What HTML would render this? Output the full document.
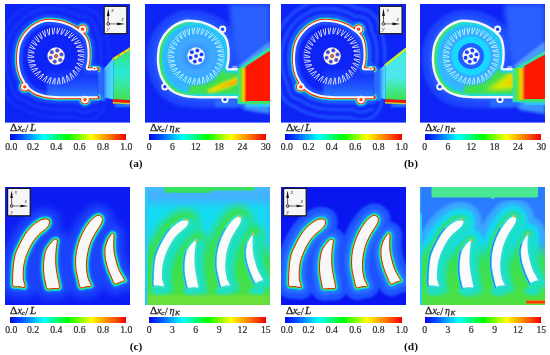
<!DOCTYPE html><html><head><meta charset="utf-8"><style>
*{margin:0;padding:0}
html,body{width:550px;height:355px;background:#fff;overflow:hidden}
.p{position:absolute;display:block}
.cb{position:absolute;height:5.6px;background:linear-gradient(to right,#0008ec 0%,#0050ff 10%,#00e8ff 26%,#00ffff 29%,#00ff00 50%,#ffff00 70%,#ff8000 85%,#f00000 100%)}
.t{position:absolute;font-family:"Liberation Serif",serif;font-size:9.7px;line-height:1;color:#2a2a2a;white-space:nowrap;-webkit-text-stroke:0.2px #2a2a2a}
.lab{position:absolute;font-family:"Liberation Serif",serif;font-size:11.4px;line-height:1;color:#111;white-space:nowrap}
.g{position:absolute;font-family:"Liberation Serif",serif;line-height:1;color:#2a2a2a;white-space:nowrap;-webkit-text-stroke:0.3px #2a2a2a}
</style></head><body><svg width="0" height="0" style="position:absolute"><defs><g id="blades"><path d="M8.10 99.00 C7.03 97.73 7.55 95.47 7.60 92.00 C7.65 88.53 8.03 82.00 8.40 78.20 C8.77 74.40 9.22 71.70 9.80 69.20 C10.38 66.70 11.05 65.27 11.90 63.20 C12.75 61.13 13.58 59.35 14.90 56.80 C16.22 54.25 18.17 50.45 19.80 47.90 C21.43 45.35 22.88 43.47 24.70 41.50 C26.52 39.53 28.72 37.58 30.70 36.10 C32.68 34.62 34.83 33.28 36.60 32.60 C38.37 31.92 40.07 31.93 41.30 32.00 C42.53 32.07 43.47 32.35 44.00 33.00 C44.53 33.65 44.62 34.90 44.50 35.90 C44.38 36.90 44.13 37.82 43.30 39.00 C42.47 40.18 41.12 41.52 39.50 43.00 C37.88 44.48 35.40 46.08 33.60 47.90 C31.80 49.72 30.18 51.75 28.70 53.90 C27.22 56.05 25.90 58.42 24.70 60.80 C23.50 63.18 22.38 65.80 21.50 68.20 C20.62 70.60 19.93 72.70 19.40 75.20 C18.87 77.70 18.48 80.40 18.30 83.20 C18.12 86.00 18.02 89.18 18.30 92.00 C18.58 94.82 20.72 98.83 20.00 100.10 C19.28 101.37 15.98 99.78 14.00 99.60 C12.02 99.42 9.17 100.27 8.10 99.00Z"/><path d="M42.20 101.60 C40.97 100.72 41.13 98.43 40.60 96.20 C40.07 93.97 39.35 90.87 39.00 88.20 C38.65 85.53 38.50 82.87 38.50 80.20 C38.50 77.53 38.65 74.87 39.00 72.20 C39.35 69.53 39.80 66.47 40.60 64.20 C41.40 61.93 42.60 60.33 43.80 58.60 C45.00 56.87 46.67 54.87 47.80 53.80 C48.93 52.73 49.85 52.20 50.60 52.20 C51.35 52.20 52.10 52.87 52.30 53.80 C52.50 54.73 52.02 56.07 51.80 57.80 C51.58 59.53 51.18 61.80 51.00 64.20 C50.82 66.60 50.70 69.53 50.70 72.20 C50.70 74.87 50.73 77.53 51.00 80.20 C51.27 82.87 51.82 85.53 52.30 88.20 C52.78 90.87 53.58 94.05 53.90 96.20 C54.22 98.35 55.18 100.22 54.20 101.10 C53.22 101.98 50.00 101.42 48.00 101.50 C46.00 101.58 43.43 102.48 42.20 101.60Z"/><path d="M75.40 100.40 C74.08 99.17 73.87 95.57 73.10 92.30 C72.33 89.03 71.18 84.63 70.80 80.80 C70.42 76.97 70.53 72.77 70.80 69.30 C71.07 65.83 71.63 63.08 72.40 60.00 C73.17 56.92 74.13 53.87 75.40 50.80 C76.67 47.73 78.28 44.47 80.00 41.60 C81.72 38.73 83.98 35.60 85.70 33.60 C87.42 31.60 88.95 30.48 90.30 29.60 C91.65 28.72 92.65 28.02 93.80 28.30 C94.95 28.58 96.82 29.85 97.20 31.30 C97.58 32.75 97.25 34.52 96.10 37.00 C94.95 39.48 92.03 43.13 90.30 46.20 C88.57 49.27 86.92 52.32 85.70 55.40 C84.48 58.48 83.68 61.62 83.00 64.70 C82.32 67.78 81.83 70.83 81.60 73.90 C81.37 76.97 81.30 80.03 81.60 83.10 C81.90 86.17 82.63 89.70 83.40 92.30 C84.17 94.90 86.60 97.47 86.20 98.70 C85.80 99.93 82.80 99.42 81.00 99.70 C79.20 99.98 76.72 101.63 75.40 100.40Z"/><path d="M109.90 96.90 C108.55 96.03 107.57 92.77 106.40 90.20 C105.23 87.63 103.87 84.42 102.90 81.50 C101.93 78.58 101.10 75.62 100.60 72.70 C100.10 69.78 99.82 66.62 99.90 64.00 C99.98 61.38 100.52 59.05 101.10 57.00 C101.68 54.95 102.60 53.22 103.40 51.70 C104.20 50.18 105.20 48.77 105.90 47.90 C106.60 47.03 107.08 46.45 107.60 46.50 C108.12 46.55 108.82 46.75 109.00 48.20 C109.18 49.65 108.70 52.57 108.70 55.20 C108.70 57.83 108.65 61.08 109.00 64.00 C109.35 66.92 110.07 69.78 110.80 72.70 C111.53 75.62 112.38 78.87 113.40 81.50 C114.42 84.13 115.88 86.62 116.90 88.50 C117.92 90.38 119.07 91.93 119.50 92.80 C119.93 93.67 120.33 93.27 119.50 93.70 C118.67 94.13 116.10 94.87 114.50 95.40 C112.90 95.93 111.25 97.77 109.90 96.90Z"/></g><path id="wallA" d="M92.60 65.30 C91.67 65.30 88.57 65.30 87.00 65.30 C85.43 65.30 84.07 65.48 83.20 65.30 C82.33 65.12 81.93 64.88 81.80 64.20 C81.67 63.52 82.17 62.32 82.40 61.20 C82.63 60.08 83.00 59.08 83.20 57.50 C83.40 55.92 83.58 53.97 83.60 51.70 C83.62 49.43 83.62 46.48 83.30 43.90 C82.98 41.32 82.37 38.22 81.70 36.20 C81.03 34.18 80.25 33.08 79.30 31.80 C78.35 30.52 77.37 29.67 76.00 28.50 C74.63 27.33 73.02 26.03 71.10 24.80 C69.18 23.57 66.95 22.20 64.50 21.10 C62.05 20.00 59.12 18.88 56.40 18.20 C53.68 17.52 50.93 17.20 48.20 17.00 C45.47 16.80 42.82 16.43 40.00 17.00 C37.18 17.57 33.98 18.92 31.30 20.40 C28.62 21.88 26.10 23.77 23.90 25.90 C21.70 28.03 19.68 30.55 18.10 33.20 C16.52 35.85 15.23 38.83 14.40 41.80 C13.57 44.77 13.32 48.12 13.10 51.00 C12.88 53.88 12.88 56.40 13.10 59.10 C13.32 61.80 13.73 64.62 14.40 67.20 C15.07 69.78 15.85 72.12 17.10 74.60 C18.35 77.08 19.87 79.83 21.90 82.10 C23.93 84.37 26.60 86.63 29.30 88.20 C32.00 89.77 35.07 90.72 38.10 91.50 C41.13 92.28 44.68 92.60 47.50 92.90 C50.32 93.20 50.75 93.23 55.00 93.30 C59.25 93.37 66.72 93.30 73.00 93.30 C79.28 93.30 89.42 93.30 92.70 93.30"/><path id="wallAc" d="M92.60 65.30 C91.67 65.30 88.57 65.30 87.00 65.30 C85.43 65.30 84.07 65.48 83.20 65.30 C82.33 65.12 81.93 64.88 81.80 64.20 C81.67 63.52 82.17 62.32 82.40 61.20 C82.63 60.08 83.00 59.08 83.20 57.50 C83.40 55.92 83.58 53.97 83.60 51.70 C83.62 49.43 83.62 46.48 83.30 43.90 C82.98 41.32 82.37 38.22 81.70 36.20 C81.03 34.18 80.25 33.08 79.30 31.80 C78.35 30.52 77.37 29.67 76.00 28.50 C74.63 27.33 73.02 26.03 71.10 24.80 C69.18 23.57 66.95 22.20 64.50 21.10 C62.05 20.00 59.12 18.88 56.40 18.20 C53.68 17.52 50.93 17.20 48.20 17.00 C45.47 16.80 42.82 16.43 40.00 17.00 C37.18 17.57 33.98 18.92 31.30 20.40 C28.62 21.88 26.10 23.77 23.90 25.90 C21.70 28.03 19.68 30.55 18.10 33.20 C16.52 35.85 15.23 38.83 14.40 41.80 C13.57 44.77 13.32 48.12 13.10 51.00 C12.88 53.88 12.88 56.40 13.10 59.10 C13.32 61.80 13.73 64.62 14.40 67.20 C15.07 69.78 15.85 72.12 17.10 74.60 C18.35 77.08 19.87 79.83 21.90 82.10 C23.93 84.37 26.60 86.63 29.30 88.20 C32.00 89.77 35.07 90.72 38.10 91.50 C41.13 92.28 44.68 92.60 47.50 92.90 C50.32 93.20 50.75 93.23 55.00 93.30 C59.25 93.37 66.72 93.30 73.00 93.30 C79.28 93.30 89.42 93.30 92.70 93.30 Z"/><g id="lugsA"><circle cx="77.60" cy="25.20" r="3.8"/><circle cx="19.80" cy="82.80" r="3.8"/><circle cx="80.00" cy="95.60" r="3.8"/></g><clipPath id="clipA"><path d="M92.60 65.30 C91.67 65.30 88.57 65.30 87.00 65.30 C85.43 65.30 84.07 65.48 83.20 65.30 C82.33 65.12 81.93 64.88 81.80 64.20 C81.67 63.52 82.17 62.32 82.40 61.20 C82.63 60.08 83.00 59.08 83.20 57.50 C83.40 55.92 83.58 53.97 83.60 51.70 C83.62 49.43 83.62 46.48 83.30 43.90 C82.98 41.32 82.37 38.22 81.70 36.20 C81.03 34.18 80.25 33.08 79.30 31.80 C78.35 30.52 77.37 29.67 76.00 28.50 C74.63 27.33 73.02 26.03 71.10 24.80 C69.18 23.57 66.95 22.20 64.50 21.10 C62.05 20.00 59.12 18.88 56.40 18.20 C53.68 17.52 50.93 17.20 48.20 17.00 C45.47 16.80 42.82 16.43 40.00 17.00 C37.18 17.57 33.98 18.92 31.30 20.40 C28.62 21.88 26.10 23.77 23.90 25.90 C21.70 28.03 19.68 30.55 18.10 33.20 C16.52 35.85 15.23 38.83 14.40 41.80 C13.57 44.77 13.32 48.12 13.10 51.00 C12.88 53.88 12.88 56.40 13.10 59.10 C13.32 61.80 13.73 64.62 14.40 67.20 C15.07 69.78 15.85 72.12 17.10 74.60 C18.35 77.08 19.87 79.83 21.90 82.10 C23.93 84.37 26.60 86.63 29.30 88.20 C32.00 89.77 35.07 90.72 38.10 91.50 C41.13 92.28 44.68 92.60 47.50 92.90 C50.32 93.20 50.75 93.23 55.00 93.30 C59.25 93.37 66.72 93.30 73.00 93.30 C79.28 93.30 89.42 93.30 92.70 93.30 Z"/></clipPath><filter id="p00_rings" x="-20%" y="-20%" width="140%" height="140%" color-interpolation-filters="sRGB"><feGaussianBlur stdDeviation="1.00"/></filter><filter id="p00_ob" x="-20%" y="-20%" width="140%" height="140%" color-interpolation-filters="sRGB"><feGaussianBlur stdDeviation="1.00"/></filter><filter id="p00_gap" x="-20%" y="-20%" width="140%" height="140%" color-interpolation-filters="sRGB"><feGaussianBlur stdDeviation="1.50"/></filter><filter id="p00_r0" x="-20%" y="-20%" width="140%" height="140%" color-interpolation-filters="sRGB"><feGaussianBlur stdDeviation="1.20"/></filter><filter id="p00_r1" x="-20%" y="-20%" width="140%" height="140%" color-interpolation-filters="sRGB"><feGaussianBlur stdDeviation="0.50"/></filter><filter id="p00_r2" x="-20%" y="-20%" width="140%" height="140%" color-interpolation-filters="sRGB"><feGaussianBlur stdDeviation="0.40"/></filter><filter id="p00_r3" x="-20%" y="-20%" width="140%" height="140%" color-interpolation-filters="sRGB"><feGaussianBlur stdDeviation="0.25"/></filter><filter id="p00_in" x="-20%" y="-20%" width="140%" height="140%" color-interpolation-filters="sRGB"><feGaussianBlur stdDeviation="1.00"/></filter><filter id="p00_ch" x="-20%" y="-20%" width="140%" height="140%" color-interpolation-filters="sRGB"><feGaussianBlur stdDeviation="1.50"/></filter><filter id="p01_halo" x="-20%" y="-20%" width="140%" height="140%" color-interpolation-filters="sRGB"><feGaussianBlur stdDeviation="1.50"/></filter><filter id="p01_tr" x="-20%" y="-20%" width="140%" height="140%" color-interpolation-filters="sRGB"><feGaussianBlur stdDeviation="2.50"/></filter><filter id="p01_ab" x="-20%" y="-20%" width="140%" height="140%" color-interpolation-filters="sRGB"><feGaussianBlur stdDeviation="1.20"/></filter><filter id="p01_bo" x="-20%" y="-20%" width="140%" height="140%" color-interpolation-filters="sRGB"><feGaussianBlur stdDeviation="1.50"/></filter><filter id="p01_gr" x="-20%" y="-20%" width="140%" height="140%" color-interpolation-filters="sRGB"><feGaussianBlur stdDeviation="0.50"/></filter><filter id="p01_ch1" x="-20%" y="-20%" width="140%" height="140%" color-interpolation-filters="sRGB"><feGaussianBlur stdDeviation="1.50"/></filter><filter id="p01_ch2" x="-20%" y="-20%" width="140%" height="140%" color-interpolation-filters="sRGB"><feGaussianBlur stdDeviation="1.50"/></filter><filter id="p01_ch4" x="-20%" y="-20%" width="140%" height="140%" color-interpolation-filters="sRGB"><feGaussianBlur stdDeviation="0.80"/></filter><filter id="p01_ch3" x="-20%" y="-20%" width="140%" height="140%" color-interpolation-filters="sRGB"><feGaussianBlur stdDeviation="1.00"/></filter><filter id="p01_rot" x="-20%" y="-20%" width="140%" height="140%" color-interpolation-filters="sRGB"><feGaussianBlur stdDeviation="0.80"/></filter><filter id="p01_hb" x="-20%" y="-20%" width="140%" height="140%" color-interpolation-filters="sRGB"><feGaussianBlur stdDeviation="1.00"/></filter><filter id="p02_rings" x="-20%" y="-20%" width="140%" height="140%" color-interpolation-filters="sRGB"><feGaussianBlur stdDeviation="1.00"/></filter><filter id="p02_ob" x="-20%" y="-20%" width="140%" height="140%" color-interpolation-filters="sRGB"><feGaussianBlur stdDeviation="1.00"/></filter><filter id="p02_gap" x="-20%" y="-20%" width="140%" height="140%" color-interpolation-filters="sRGB"><feGaussianBlur stdDeviation="1.50"/></filter><filter id="p02_r0" x="-20%" y="-20%" width="140%" height="140%" color-interpolation-filters="sRGB"><feGaussianBlur stdDeviation="1.20"/></filter><filter id="p02_r1" x="-20%" y="-20%" width="140%" height="140%" color-interpolation-filters="sRGB"><feGaussianBlur stdDeviation="0.50"/></filter><filter id="p02_r2" x="-20%" y="-20%" width="140%" height="140%" color-interpolation-filters="sRGB"><feGaussianBlur stdDeviation="0.40"/></filter><filter id="p02_r3" x="-20%" y="-20%" width="140%" height="140%" color-interpolation-filters="sRGB"><feGaussianBlur stdDeviation="0.25"/></filter><filter id="p02_in" x="-20%" y="-20%" width="140%" height="140%" color-interpolation-filters="sRGB"><feGaussianBlur stdDeviation="1.00"/></filter><filter id="p02_ch" x="-20%" y="-20%" width="140%" height="140%" color-interpolation-filters="sRGB"><feGaussianBlur stdDeviation="1.50"/></filter><filter id="p03_halo" x="-20%" y="-20%" width="140%" height="140%" color-interpolation-filters="sRGB"><feGaussianBlur stdDeviation="1.50"/></filter><filter id="p03_tr" x="-20%" y="-20%" width="140%" height="140%" color-interpolation-filters="sRGB"><feGaussianBlur stdDeviation="2.50"/></filter><filter id="p03_ab" x="-20%" y="-20%" width="140%" height="140%" color-interpolation-filters="sRGB"><feGaussianBlur stdDeviation="1.20"/></filter><filter id="p03_bo" x="-20%" y="-20%" width="140%" height="140%" color-interpolation-filters="sRGB"><feGaussianBlur stdDeviation="1.50"/></filter><filter id="p03_gr" x="-20%" y="-20%" width="140%" height="140%" color-interpolation-filters="sRGB"><feGaussianBlur stdDeviation="0.50"/></filter><filter id="p03_ch1" x="-20%" y="-20%" width="140%" height="140%" color-interpolation-filters="sRGB"><feGaussianBlur stdDeviation="1.50"/></filter><filter id="p03_ch2" x="-20%" y="-20%" width="140%" height="140%" color-interpolation-filters="sRGB"><feGaussianBlur stdDeviation="2.00"/></filter><filter id="p03_ch4" x="-20%" y="-20%" width="140%" height="140%" color-interpolation-filters="sRGB"><feGaussianBlur stdDeviation="1.20"/></filter><filter id="p03_ch3" x="-20%" y="-20%" width="140%" height="140%" color-interpolation-filters="sRGB"><feGaussianBlur stdDeviation="1.00"/></filter><filter id="p03_rot" x="-20%" y="-20%" width="140%" height="140%" color-interpolation-filters="sRGB"><feGaussianBlur stdDeviation="0.80"/></filter><filter id="p03_hb" x="-20%" y="-20%" width="140%" height="140%" color-interpolation-filters="sRGB"><feGaussianBlur stdDeviation="0.60"/></filter><filter id="p10_h1" x="-20%" y="-20%" width="140%" height="140%" color-interpolation-filters="sRGB"><feGaussianBlur stdDeviation="3.50"/></filter><filter id="p10_r0" x="-20%" y="-20%" width="140%" height="140%" color-interpolation-filters="sRGB"><feGaussianBlur stdDeviation="1.00"/></filter><filter id="p10_r1" x="-20%" y="-20%" width="140%" height="140%" color-interpolation-filters="sRGB"><feGaussianBlur stdDeviation="0.55"/></filter><filter id="p10_r2" x="-20%" y="-20%" width="140%" height="140%" color-interpolation-filters="sRGB"><feGaussianBlur stdDeviation="0.40"/></filter><filter id="p11_cy" x="-20%" y="-20%" width="140%" height="140%" color-interpolation-filters="sRGB"><feGaussianBlur stdDeviation="4.00"/></filter><filter id="p11_g1" x="-20%" y="-20%" width="140%" height="140%" color-interpolation-filters="sRGB"><feGaussianBlur stdDeviation="3.50"/></filter><filter id="p11_g2" x="-20%" y="-20%" width="140%" height="140%" color-interpolation-filters="sRGB"><feGaussianBlur stdDeviation="1.20"/></filter><filter id="p11_sh" x="-20%" y="-20%" width="140%" height="140%" color-interpolation-filters="sRGB"><feGaussianBlur stdDeviation="2.00"/></filter><filter id="p11_e14" x="-20%" y="-20%" width="140%" height="140%" color-interpolation-filters="sRGB"><feGaussianBlur stdDeviation="1.80"/></filter><filter id="p11_e46" x="-20%" y="-20%" width="140%" height="140%" color-interpolation-filters="sRGB"><feGaussianBlur stdDeviation="1.80"/></filter><filter id="p11_e78" x="-20%" y="-20%" width="140%" height="140%" color-interpolation-filters="sRGB"><feGaussianBlur stdDeviation="1.80"/></filter><filter id="p11_e112" x="-20%" y="-20%" width="140%" height="140%" color-interpolation-filters="sRGB"><feGaussianBlur stdDeviation="1.80"/></filter><filter id="p11_yb" x="-20%" y="-20%" width="140%" height="140%" color-interpolation-filters="sRGB"><feGaussianBlur stdDeviation="1.50"/></filter><filter id="p12_h1" x="-20%" y="-20%" width="140%" height="140%" color-interpolation-filters="sRGB"><feGaussianBlur stdDeviation="1.20"/></filter><filter id="p12_h2" x="-20%" y="-20%" width="140%" height="140%" color-interpolation-filters="sRGB"><feGaussianBlur stdDeviation="1.00"/></filter><filter id="p12_r0" x="-20%" y="-20%" width="140%" height="140%" color-interpolation-filters="sRGB"><feGaussianBlur stdDeviation="1.00"/></filter><filter id="p12_r1" x="-20%" y="-20%" width="140%" height="140%" color-interpolation-filters="sRGB"><feGaussianBlur stdDeviation="0.55"/></filter><filter id="p12_r2" x="-20%" y="-20%" width="140%" height="140%" color-interpolation-filters="sRGB"><feGaussianBlur stdDeviation="0.40"/></filter><filter id="p13_lb" x="-20%" y="-20%" width="140%" height="140%" color-interpolation-filters="sRGB"><feGaussianBlur stdDeviation="1.50"/></filter><filter id="p13_cy" x="-20%" y="-20%" width="140%" height="140%" color-interpolation-filters="sRGB"><feGaussianBlur stdDeviation="1.60"/></filter><filter id="p13_g1" x="-20%" y="-20%" width="140%" height="140%" color-interpolation-filters="sRGB"><feGaussianBlur stdDeviation="1.50"/></filter><filter id="p13_sh" x="-20%" y="-20%" width="140%" height="140%" color-interpolation-filters="sRGB"><feGaussianBlur stdDeviation="2.00"/></filter><filter id="p13_e14" x="-20%" y="-20%" width="140%" height="140%" color-interpolation-filters="sRGB"><feGaussianBlur stdDeviation="1.80"/></filter><filter id="p13_e46" x="-20%" y="-20%" width="140%" height="140%" color-interpolation-filters="sRGB"><feGaussianBlur stdDeviation="1.80"/></filter><filter id="p13_e78" x="-20%" y="-20%" width="140%" height="140%" color-interpolation-filters="sRGB"><feGaussianBlur stdDeviation="1.80"/></filter><filter id="p13_e112" x="-20%" y="-20%" width="140%" height="140%" color-interpolation-filters="sRGB"><feGaussianBlur stdDeviation="1.80"/></filter><filter id="p13_tb" x="-20%" y="-20%" width="140%" height="140%" color-interpolation-filters="sRGB"><feGaussianBlur stdDeviation="1.20"/></filter></defs></svg><svg class="p" style="left:5.00px;top:4.00px" width="125.00" height="118.60" viewBox="0 0 125.00 118.60"><rect width="100%" height="100%" fill="#0e24f6"/><g filter="url(#p00_rings)" fill="none" stroke-linejoin="round"><use href="#wallA" stroke="#1230f8" stroke-width="44.00"/><use href="#lugsA" stroke="#1230f8" stroke-width="37.40"/><use href="#wallA" stroke="#0e24f6" stroke-width="37.00"/><use href="#lugsA" stroke="#0e24f6" stroke-width="30.40"/><use href="#wallA" stroke="#1434f8" stroke-width="28.00"/><use href="#lugsA" stroke="#1434f8" stroke-width="21.40"/><use href="#wallA" stroke="#0e24f6" stroke-width="21.00"/><use href="#lugsA" stroke="#0e24f6" stroke-width="14.40"/><use href="#wallA" stroke="#1840fa" stroke-width="14.00"/><use href="#lugsA" stroke="#1840fa" stroke-width="7.40"/><use href="#wallA" stroke="#0e24f6" stroke-width="9.00"/><use href="#lugsA" stroke="#0e24f6" stroke-width="2.40"/></g><defs><linearGradient id="p00_ol" x1="0" y1="0" x2="1" y2="0"><stop offset="0" stop-color="#50b4ff"/><stop offset="1" stop-color="#48dcff"/></linearGradient><linearGradient id="p00_or" x1="0" y1="0" x2="0" y2="1"><stop offset="0" stop-color="#40e070"/><stop offset="0.25" stop-color="#30e8a0"/><stop offset="0.45" stop-color="#28e8d8"/><stop offset="0.7" stop-color="#38e8a0"/><stop offset="1" stop-color="#40e050"/></linearGradient></defs><polygon points="99.2,64.9 108.4,54.4 108.4,95.5 99.2,93.5" fill="url(#p00_ol)"/><polygon points="108.4,54.4 125,43.8 125,96 108.4,95.5" fill="url(#p00_or)"/><line x1="107.6" y1="55.5" x2="125.5" y2="44.2" stroke="#c8f020" stroke-width="2.3"/><line x1="107.6" y1="55.5" x2="125.5" y2="44.2" stroke="#ff9000" stroke-width="2.3" stroke-dasharray="2 4.5"/><line x1="99.0" y1="65.6" x2="108.4" y2="55.0" stroke="#60c8ff" stroke-width="1.2"/><polygon points="107.8,95.2 125,96.2 125,99 107.8,98" fill="#ff1800"/><polygon points="107.8,98 125,99 125,100.6 107.8,99.6" fill="#f0d000"/><rect x="110" y="99.9" width="15" height="3" fill="#30c8ff" opacity="0.6" filter="url(#p00_ob)"/><ellipse cx="97.5" cy="94.5" rx="2.5" ry="2" fill="#40b0ff" filter="url(#p00_ob)"/><polygon points="92,66 100,64 100,95 92,94" fill="#2a6cff" filter="url(#p00_gap)"/><g filter="url(#p00_r0)" opacity="0.60" stroke="#1a8cff" stroke-linejoin="round" stroke-linecap="round" ><use href="#wallA" fill="none" stroke-width="9.10"/><use href="#lugsA" fill="none" stroke-width="7.00"/></g><g filter="url(#p00_r1)" opacity="1.00" stroke="#00d8ff" stroke-linejoin="round" stroke-linecap="round" ><use href="#wallA" fill="none" stroke-width="6.50"/><use href="#lugsA" fill="none" stroke-width="4.40"/></g><g filter="url(#p00_r2)" opacity="1.00" stroke="#40f080" stroke-linejoin="round" stroke-linecap="round" ><use href="#wallA" fill="none" stroke-width="5.10"/><use href="#lugsA" fill="none" stroke-width="3.00"/></g><g filter="url(#p00_r3)" opacity="1.00" stroke="#ff2000" stroke-linejoin="round" stroke-linecap="round" ><use href="#wallA" fill="none" stroke-width="4.00"/><use href="#lugsA" fill="none" stroke-width="1.90"/></g><use href="#wallAc" fill="#0e24f6"/><g clip-path="url(#clipA)"><use href="#wallA" fill="none" stroke="#2050ff" stroke-width="9" filter="url(#p00_in)"/></g><defs><linearGradient id="p00_chg" x1="0" y1="0" x2="0" y2="1"><stop offset="0" stop-color="#1c48ff" stop-opacity="0.3"/><stop offset="0.6" stop-color="#2462ff" stop-opacity="0.8"/><stop offset="1" stop-color="#2c80ff"/></linearGradient></defs><g clip-path="url(#clipA)"><rect x="42" y="66" width="56" height="28" fill="url(#p00_chg)" filter="url(#p00_ch)"/></g><use href="#wallA" fill="none" stroke="#f8f8f8" stroke-width="2.1"/><circle cx="77.60" cy="25.20" r="3.8" fill="#f8f8f8"/><circle cx="77.60" cy="25.20" r="1.6" fill="#ff2000"/><circle cx="77.60" cy="25.20" r="0.5" fill="#c0e020"/><circle cx="19.80" cy="82.80" r="3.8" fill="#f8f8f8"/><circle cx="19.80" cy="82.80" r="1.6" fill="#ff2000"/><circle cx="19.80" cy="82.80" r="0.5" fill="#c0e020"/><circle cx="80.00" cy="95.60" r="3.8" fill="#f8f8f8"/><circle cx="80.00" cy="95.60" r="1.6" fill="#ff2000"/><circle cx="80.00" cy="95.60" r="0.5" fill="#c0e020"/><circle cx="89.60" cy="64.60" r="2" fill="#f8f8f8"/><circle cx="89.60" cy="64.60" r="0.9" fill="#ff2000"/><path d="M79.22 50.82 Q66.44 50.15 79.22 53.28 M78.97 56.02 Q66.52 53.01 78.52 58.44 M77.77 61.08 Q66.08 55.83 76.88 63.37 M75.65 65.84 Q65.13 58.53 74.36 67.93 M72.70 70.12 Q63.70 61.01 71.04 71.94 M69.01 73.79 Q61.84 63.18 67.05 75.27 M64.71 76.72 Q59.61 64.97 62.51 77.82 M59.94 78.81 Q57.09 66.33 57.58 79.48 M54.87 79.99 Q54.36 67.19 52.42 80.22 M49.68 80.22 Q51.52 67.55 47.23 79.99 M44.52 79.48 Q48.67 67.37 42.16 78.81 M39.59 77.82 Q45.89 66.67 37.39 76.72 M35.05 75.27 Q43.30 65.47 33.09 73.79 M31.06 71.94 Q40.96 63.82 29.40 70.12 M27.74 67.93 Q38.97 61.77 26.45 65.84 M25.22 63.37 Q37.39 59.38 24.33 61.08 M23.58 58.44 Q36.28 56.75 23.13 56.02 M22.88 53.28 Q35.66 53.95 22.88 50.82 M23.13 48.08 Q35.58 51.09 23.58 45.66 M24.33 43.02 Q36.02 48.27 25.22 40.73 M26.45 38.26 Q36.97 45.57 27.74 36.17 M29.40 33.98 Q38.40 43.09 31.06 32.16 M33.09 30.31 Q40.26 40.92 35.05 28.83 M37.39 27.38 Q42.49 39.13 39.59 26.28 M42.16 25.29 Q45.01 37.77 44.52 24.62 M47.23 24.11 Q47.74 36.91 49.68 23.88 M52.42 23.88 Q50.58 36.55 54.87 24.11 M57.58 24.62 Q53.43 36.73 59.94 25.29 M62.51 26.28 Q56.21 37.43 64.71 27.38 M67.05 28.83 Q58.80 38.63 69.01 30.31 M71.04 32.16 Q61.14 40.28 72.70 33.98 M74.36 36.17 Q63.13 42.33 75.65 38.26 M76.88 40.73 Q64.71 44.72 77.77 43.02 M78.52 45.66 Q65.82 47.35 78.97 48.08" fill="none" stroke="#eef2f0" stroke-width="0.90" stroke-linecap="round"/><circle cx="51.05" cy="52.05" r="8.7" fill="#f6f6f2"/><circle cx="56.50" cy="50.38" r="1.9" fill="#2050ff" stroke="#ff8040" stroke-width="0.55" stroke-opacity="0.75"/><circle cx="52.33" cy="46.50" r="1.9" fill="#2050ff" stroke="#ff8040" stroke-width="0.55" stroke-opacity="0.75"/><circle cx="46.88" cy="48.16" r="1.9" fill="#2050ff" stroke="#ff8040" stroke-width="0.55" stroke-opacity="0.75"/><circle cx="45.60" cy="53.72" r="1.9" fill="#2050ff" stroke="#ff8040" stroke-width="0.55" stroke-opacity="0.75"/><circle cx="49.77" cy="57.60" r="1.9" fill="#2050ff" stroke="#ff8040" stroke-width="0.55" stroke-opacity="0.75"/><circle cx="55.22" cy="55.94" r="1.9" fill="#2050ff" stroke="#ff8040" stroke-width="0.55" stroke-opacity="0.75"/><circle cx="51.05" cy="52.05" r="1.6" fill="#20c0e0" stroke="#ff2000" stroke-width="0.9"/><g transform="translate(98.60 1.70)"><rect x="0.6" y="0.6" width="22.6" height="27.4" fill="#f6f6f6" stroke="#151515" stroke-width="1.2"/><line x1="4.6" y1="18.2" x2="4.6" y2="9" stroke="#333" stroke-width="0.8"/><path d="M4.6 2.6 L5.95 10.3 L3.25 10.3Z" fill="#111"/><line x1="4.6" y1="18.2" x2="15" y2="18.2" stroke="#666" stroke-width="0.9"/><path d="M21.3 18.2 L13.6 19.55 L13.6 16.85Z" fill="#111"/><circle cx="4.6" cy="18.2" r="1.4" fill="#ccc" stroke="#222" stroke-width="0.8"/><text x="7.6" y="6.4" font-family="Liberation Serif" font-style="italic" font-size="5.8" fill="#444">x</text><text x="17.8" y="15.6" font-family="Liberation Serif" font-style="italic" font-size="5.6" fill="#444">z</text><text x="3.2" y="25.8" font-family="Liberation Serif" font-style="italic" font-size="6.4" fill="#555">y</text></g></svg>
<div class="cb" style="left:9.60px;top:134.30px;width:116.70px"></div>
<div class="t" style="left:11.30px;top:142.40px;width:30px;margin-left:-15px;text-align:center">0.0</div>
<div class="t" style="left:32.94px;top:142.40px;width:30px;margin-left:-15px;text-align:center">0.2</div>
<div class="t" style="left:56.28px;top:142.40px;width:30px;margin-left:-15px;text-align:center">0.4</div>
<div class="t" style="left:79.62px;top:142.40px;width:30px;margin-left:-15px;text-align:center">0.6</div>
<div class="t" style="left:102.96px;top:142.40px;width:30px;margin-left:-15px;text-align:center">0.8</div>
<div class="t" style="left:126.30px;top:142.40px;width:30px;margin-left:-15px;text-align:center">1.0</div>
<span class="g" style="left:10.20px;top:122.83px;font-size:10.20px;font-style:normal;transform:scaleX(1.12);transform-origin:0 0">&Delta;</span><span class="g" style="left:17.50px;top:122.83px;font-size:10.20px;font-style:italic">x</span><span class="g" style="left:21.70px;top:127.02px;font-size:7.00px;font-style:italic">c</span><span class="g" style="left:25.20px;top:123.00px;font-size:10.71px;font-style:normal">/</span><span class="g" style="left:29.80px;top:122.83px;font-size:10.20px;font-style:italic;transform:scaleX(1.1);transform-origin:0 0">L</span>
<svg class="p" style="left:144.50px;top:4.00px" width="125.00" height="118.60" viewBox="0 0 125.00 118.60"><rect width="100%" height="100%" fill="#0e24f6"/><g filter="url(#p01_halo)" fill="none" stroke-linejoin="round"><use href="#wallA" stroke="#1c44fc" stroke-width="22"/><use href="#wallA" stroke="#2458ff" stroke-width="9"/></g><polygon points="84,0 125,0 125,42 100,58 92,62 88,40" fill="#2a60ff" filter="url(#p01_tr)"/><polygon points="90,64 100,56 125,37 125,48 101,63" fill="#4c98ff" filter="url(#p01_ab)"/><polygon points="92,96 125,96 125,110 100,106" fill="#3a90ff" filter="url(#p01_bo)"/><rect x="70" y="95" width="30" height="8" fill="#2a6cff" filter="url(#p01_bo)"/><polygon points="92.6,65 100.8,58.8 125,42.8 125,102.0 92.6,100.0" fill="#30e0a8"/><defs><linearGradient id="p01_lg" x1="0" y1="0" x2="1" y2="0"><stop offset="0" stop-color="#30e0c0"/><stop offset="0.35" stop-color="#50e840"/><stop offset="0.7" stop-color="#f0d000"/><stop offset="1" stop-color="#ff6000"/></linearGradient></defs><rect x="92.6" y="64" width="8.4" height="34.0" fill="url(#p01_lg)"/><polygon points="100.8,62.3 125,46.8 125,97.0 100.8,97.0" fill="#ff1800"/><rect x="100.8" y="97.0" width="24.7" height="3.2" fill="#40e070"/><rect x="100.8" y="100.2" width="24.7" height="3" fill="#30c8ff" opacity="0.8"/><g clip-path="url(#clipA)"><rect width="125" height="120" fill="#38b4ff"/><defs><linearGradient id="p01_gw" x1="0" y1="0.2" x2="0.9" y2="0"><stop offset="0" stop-color="#40e060"/><stop offset="0.3" stop-color="#38e080"/><stop offset="0.55" stop-color="#20d8e8" stop-opacity="0.7"/><stop offset="1" stop-color="#20d8f0" stop-opacity="0"/></linearGradient></defs><use href="#wallA" fill="none" stroke="#20c8f8" stroke-width="13"/><use href="#wallA" fill="none" stroke="url(#p01_gw)" stroke-width="7.5" filter="url(#p01_gr)"/><polygon points="50,70 97,63 97,96 40,96" fill="#40e050" filter="url(#p01_ch1)"/><polygon points="62,86 78,78 97,71 97,78 80,85 64,90" fill="#e8e000" filter="url(#p01_ch2)"/><polygon points="72,84 86,78 96,75 96,77 86,80.5" fill="#ff9000" filter="url(#p01_ch4)"/><rect x="40" y="90" width="58" height="5" fill="#20d8f0" filter="url(#p01_ch3)"/><rect x="80" y="64" width="18" height="5" fill="#20d0f0" filter="url(#p01_ch3)"/><circle cx="51.05" cy="52.05" r="29.2" fill="#34acff" filter="url(#p01_rot)"/><circle cx="51.05" cy="52.05" r="26.5" fill="none" stroke="#20c8f8" stroke-width="4" opacity="0.6"/><circle cx="51.05" cy="52.05" r="19.5" fill="#40a8ff"/><circle cx="51.05" cy="52.05" r="13" fill="#3898ff" filter="url(#p01_hb)"/></g><use href="#wallA" fill="none" stroke="#f8f8f8" stroke-width="2.4"/><circle cx="77.60" cy="25.20" r="3.6" fill="#f8f8f8"/><circle cx="77.60" cy="25.20" r="1.7" fill="#1840ff"/><circle cx="19.80" cy="82.80" r="3.6" fill="#f8f8f8"/><circle cx="19.80" cy="82.80" r="1.7" fill="#1840ff"/><circle cx="80.00" cy="95.60" r="3.6" fill="#f8f8f8"/><circle cx="80.00" cy="95.60" r="1.7" fill="#1840ff"/><rect x="88.10" y="62.80" width="3" height="2.6" fill="none" stroke="#f8f8f8" stroke-width="0.8"/><path d="M79.22 50.82 Q66.44 50.15 79.22 53.28 M78.97 56.02 Q66.52 53.01 78.52 58.44 M77.77 61.08 Q66.08 55.83 76.88 63.37 M75.65 65.84 Q65.13 58.53 74.36 67.93 M72.70 70.12 Q63.70 61.01 71.04 71.94 M69.01 73.79 Q61.84 63.18 67.05 75.27 M64.71 76.72 Q59.61 64.97 62.51 77.82 M59.94 78.81 Q57.09 66.33 57.58 79.48 M54.87 79.99 Q54.36 67.19 52.42 80.22 M49.68 80.22 Q51.52 67.55 47.23 79.99 M44.52 79.48 Q48.67 67.37 42.16 78.81 M39.59 77.82 Q45.89 66.67 37.39 76.72 M35.05 75.27 Q43.30 65.47 33.09 73.79 M31.06 71.94 Q40.96 63.82 29.40 70.12 M27.74 67.93 Q38.97 61.77 26.45 65.84 M25.22 63.37 Q37.39 59.38 24.33 61.08 M23.58 58.44 Q36.28 56.75 23.13 56.02 M22.88 53.28 Q35.66 53.95 22.88 50.82 M23.13 48.08 Q35.58 51.09 23.58 45.66 M24.33 43.02 Q36.02 48.27 25.22 40.73 M26.45 38.26 Q36.97 45.57 27.74 36.17 M29.40 33.98 Q38.40 43.09 31.06 32.16 M33.09 30.31 Q40.26 40.92 35.05 28.83 M37.39 27.38 Q42.49 39.13 39.59 26.28 M42.16 25.29 Q45.01 37.77 44.52 24.62 M47.23 24.11 Q47.74 36.91 49.68 23.88 M52.42 23.88 Q50.58 36.55 54.87 24.11 M57.58 24.62 Q53.43 36.73 59.94 25.29 M62.51 26.28 Q56.21 37.43 64.71 27.38 M67.05 28.83 Q58.80 38.63 69.01 30.31 M71.04 32.16 Q61.14 40.28 72.70 33.98 M74.36 36.17 Q63.13 42.33 75.65 38.26 M76.88 40.73 Q64.71 44.72 77.77 43.02 M78.52 45.66 Q65.82 47.35 78.97 48.08" fill="none" stroke="#dcf0ff" stroke-width="0.85" stroke-linecap="round"/><circle cx="51.05" cy="52.05" r="8.7" fill="#f6f6f2"/><circle cx="56.50" cy="50.38" r="1.95" fill="#1840ff"/><circle cx="52.33" cy="46.50" r="1.95" fill="#1840ff"/><circle cx="46.88" cy="48.16" r="1.95" fill="#1840ff"/><circle cx="45.60" cy="53.72" r="1.95" fill="#1840ff"/><circle cx="49.77" cy="57.60" r="1.95" fill="#1840ff"/><circle cx="55.22" cy="55.94" r="1.95" fill="#1840ff"/><circle cx="51.05" cy="52.05" r="1.9" fill="#1840ff"/></svg>
<div class="cb" style="left:149.10px;top:134.30px;width:116.70px"></div>
<div class="t" style="left:149.10px;top:142.40px;width:30px;margin-left:-15px;text-align:center">0</div>
<div class="t" style="left:172.44px;top:142.40px;width:30px;margin-left:-15px;text-align:center">6</div>
<div class="t" style="left:195.78px;top:142.40px;width:30px;margin-left:-15px;text-align:center">12</div>
<div class="t" style="left:219.12px;top:142.40px;width:30px;margin-left:-15px;text-align:center">18</div>
<div class="t" style="left:242.46px;top:142.40px;width:30px;margin-left:-15px;text-align:center">24</div>
<div class="t" style="left:265.80px;top:142.40px;width:30px;margin-left:-15px;text-align:center">30</div>
<span class="g" style="left:149.70px;top:122.83px;font-size:10.20px;font-style:normal;transform:scaleX(1.12);transform-origin:0 0">&Delta;</span><span class="g" style="left:157.00px;top:122.83px;font-size:10.20px;font-style:italic">x</span><span class="g" style="left:161.20px;top:127.02px;font-size:7.00px;font-style:italic">c</span><span class="g" style="left:164.70px;top:123.00px;font-size:10.71px;font-style:normal">/</span><span class="g" style="left:169.60px;top:122.83px;font-size:10.20px;font-style:italic">&eta;</span><span class="g" style="left:175.00px;top:127.02px;font-size:7.00px;font-style:italic">K</span>
<svg class="p" style="left:280.60px;top:4.00px" width="125.00" height="118.60" viewBox="0 0 125.00 118.60"><rect width="100%" height="100%" fill="#0e24f6"/><g filter="url(#p02_rings)" fill="none" stroke-linejoin="round"><use href="#wallA" stroke="#1c4cff" stroke-width="44.00"/><use href="#lugsA" stroke="#1c4cff" stroke-width="37.40"/><use href="#wallA" stroke="#0e24f6" stroke-width="37.00"/><use href="#lugsA" stroke="#0e24f6" stroke-width="30.40"/><use href="#wallA" stroke="#1c4cff" stroke-width="28.00"/><use href="#lugsA" stroke="#1c4cff" stroke-width="21.40"/><use href="#wallA" stroke="#0e24f6" stroke-width="21.00"/><use href="#lugsA" stroke="#0e24f6" stroke-width="14.40"/><use href="#wallA" stroke="#2060ff" stroke-width="14.00"/><use href="#lugsA" stroke="#2060ff" stroke-width="7.40"/><use href="#wallA" stroke="#0e24f6" stroke-width="9.00"/><use href="#lugsA" stroke="#0e24f6" stroke-width="2.40"/></g><defs><linearGradient id="p02_ol" x1="0" y1="0" x2="1" y2="0"><stop offset="0" stop-color="#50b4ff"/><stop offset="1" stop-color="#48dcff"/></linearGradient><linearGradient id="p02_or" x1="0" y1="0" x2="0" y2="1"><stop offset="0" stop-color="#40e8c0"/><stop offset="0.25" stop-color="#48e8e8"/><stop offset="0.55" stop-color="#50e8f0"/><stop offset="0.8" stop-color="#40e890"/><stop offset="1" stop-color="#40e050"/></linearGradient></defs><polygon points="98.0,66.4 104.7,60.3 104.7,95.5 98.0,93.5" fill="url(#p02_ol)"/><polygon points="104.7,60.3 125,44.0 125,96 104.7,95.5" fill="url(#p02_or)"/><line x1="103.9" y1="61.4" x2="125.5" y2="44.4" stroke="#c8f020" stroke-width="2.3"/><line x1="97.8" y1="67.1" x2="104.7" y2="60.9" stroke="#60c8ff" stroke-width="1.2"/><polygon points="104.1,95.2 125,96.2 125,99 104.1,98" fill="#ff1800"/><polygon points="104.1,98 125,99 125,100.6 104.1,99.6" fill="#f0d000"/><rect x="110" y="99.9" width="15" height="3" fill="#30c8ff" opacity="0.6" filter="url(#p02_ob)"/><ellipse cx="97.5" cy="94.5" rx="2.5" ry="2" fill="#40b0ff" filter="url(#p02_ob)"/><polygon points="92,66 100,64 100,95 92,94" fill="#2a6cff" filter="url(#p02_gap)"/><g filter="url(#p02_r0)" opacity="0.60" stroke="#1a8cff" stroke-linejoin="round" stroke-linecap="round" ><use href="#wallA" fill="none" stroke-width="9.10"/><use href="#lugsA" fill="none" stroke-width="7.00"/></g><g filter="url(#p02_r1)" opacity="1.00" stroke="#00d8ff" stroke-linejoin="round" stroke-linecap="round" ><use href="#wallA" fill="none" stroke-width="6.50"/><use href="#lugsA" fill="none" stroke-width="4.40"/></g><g filter="url(#p02_r2)" opacity="1.00" stroke="#40f080" stroke-linejoin="round" stroke-linecap="round" ><use href="#wallA" fill="none" stroke-width="5.10"/><use href="#lugsA" fill="none" stroke-width="3.00"/></g><g filter="url(#p02_r3)" opacity="1.00" stroke="#ff2000" stroke-linejoin="round" stroke-linecap="round" ><use href="#wallA" fill="none" stroke-width="4.00"/><use href="#lugsA" fill="none" stroke-width="1.90"/></g><use href="#wallAc" fill="#0e24f6"/><g clip-path="url(#clipA)"><use href="#wallA" fill="none" stroke="#2050ff" stroke-width="9" filter="url(#p02_in)"/></g><defs><linearGradient id="p02_chg" x1="0" y1="0" x2="0" y2="1"><stop offset="0" stop-color="#1c48ff" stop-opacity="0.3"/><stop offset="0.6" stop-color="#2462ff" stop-opacity="0.8"/><stop offset="1" stop-color="#2c80ff"/></linearGradient></defs><g clip-path="url(#clipA)"><rect x="42" y="66" width="56" height="28" fill="url(#p02_chg)" filter="url(#p02_ch)"/></g><use href="#wallA" fill="none" stroke="#f8f8f8" stroke-width="2.1"/><circle cx="77.60" cy="25.20" r="3.8" fill="#f8f8f8"/><circle cx="77.60" cy="25.20" r="1.6" fill="#ff2000"/><circle cx="77.60" cy="25.20" r="0.5" fill="#c0e020"/><circle cx="19.80" cy="82.80" r="3.8" fill="#f8f8f8"/><circle cx="19.80" cy="82.80" r="1.6" fill="#ff2000"/><circle cx="19.80" cy="82.80" r="0.5" fill="#c0e020"/><circle cx="80.00" cy="95.60" r="3.8" fill="#f8f8f8"/><circle cx="80.00" cy="95.60" r="1.6" fill="#ff2000"/><circle cx="80.00" cy="95.60" r="0.5" fill="#c0e020"/><circle cx="89.60" cy="64.60" r="2" fill="#f8f8f8"/><circle cx="89.60" cy="64.60" r="0.9" fill="#ff2000"/><path d="M79.22 50.82 Q66.44 50.15 79.22 53.28 M78.97 56.02 Q66.52 53.01 78.52 58.44 M77.77 61.08 Q66.08 55.83 76.88 63.37 M75.65 65.84 Q65.13 58.53 74.36 67.93 M72.70 70.12 Q63.70 61.01 71.04 71.94 M69.01 73.79 Q61.84 63.18 67.05 75.27 M64.71 76.72 Q59.61 64.97 62.51 77.82 M59.94 78.81 Q57.09 66.33 57.58 79.48 M54.87 79.99 Q54.36 67.19 52.42 80.22 M49.68 80.22 Q51.52 67.55 47.23 79.99 M44.52 79.48 Q48.67 67.37 42.16 78.81 M39.59 77.82 Q45.89 66.67 37.39 76.72 M35.05 75.27 Q43.30 65.47 33.09 73.79 M31.06 71.94 Q40.96 63.82 29.40 70.12 M27.74 67.93 Q38.97 61.77 26.45 65.84 M25.22 63.37 Q37.39 59.38 24.33 61.08 M23.58 58.44 Q36.28 56.75 23.13 56.02 M22.88 53.28 Q35.66 53.95 22.88 50.82 M23.13 48.08 Q35.58 51.09 23.58 45.66 M24.33 43.02 Q36.02 48.27 25.22 40.73 M26.45 38.26 Q36.97 45.57 27.74 36.17 M29.40 33.98 Q38.40 43.09 31.06 32.16 M33.09 30.31 Q40.26 40.92 35.05 28.83 M37.39 27.38 Q42.49 39.13 39.59 26.28 M42.16 25.29 Q45.01 37.77 44.52 24.62 M47.23 24.11 Q47.74 36.91 49.68 23.88 M52.42 23.88 Q50.58 36.55 54.87 24.11 M57.58 24.62 Q53.43 36.73 59.94 25.29 M62.51 26.28 Q56.21 37.43 64.71 27.38 M67.05 28.83 Q58.80 38.63 69.01 30.31 M71.04 32.16 Q61.14 40.28 72.70 33.98 M74.36 36.17 Q63.13 42.33 75.65 38.26 M76.88 40.73 Q64.71 44.72 77.77 43.02 M78.52 45.66 Q65.82 47.35 78.97 48.08" fill="none" stroke="#eef2f0" stroke-width="0.90" stroke-linecap="round"/><circle cx="51.05" cy="52.05" r="8.7" fill="#f6f6f2"/><circle cx="56.50" cy="50.38" r="1.9" fill="#2050ff" stroke="#ff8040" stroke-width="0.55" stroke-opacity="0.75"/><circle cx="52.33" cy="46.50" r="1.9" fill="#2050ff" stroke="#ff8040" stroke-width="0.55" stroke-opacity="0.75"/><circle cx="46.88" cy="48.16" r="1.9" fill="#2050ff" stroke="#ff8040" stroke-width="0.55" stroke-opacity="0.75"/><circle cx="45.60" cy="53.72" r="1.9" fill="#2050ff" stroke="#ff8040" stroke-width="0.55" stroke-opacity="0.75"/><circle cx="49.77" cy="57.60" r="1.9" fill="#2050ff" stroke="#ff8040" stroke-width="0.55" stroke-opacity="0.75"/><circle cx="55.22" cy="55.94" r="1.9" fill="#2050ff" stroke="#ff8040" stroke-width="0.55" stroke-opacity="0.75"/><circle cx="51.05" cy="52.05" r="1.6" fill="#20c0e0" stroke="#ff2000" stroke-width="0.9"/><g transform="translate(97.90 1.70)"><rect x="0.6" y="0.6" width="22.6" height="27.4" fill="#f6f6f6" stroke="#151515" stroke-width="1.2"/><line x1="4.6" y1="18.2" x2="4.6" y2="9" stroke="#333" stroke-width="0.8"/><path d="M4.6 2.6 L5.95 10.3 L3.25 10.3Z" fill="#111"/><line x1="4.6" y1="18.2" x2="15" y2="18.2" stroke="#666" stroke-width="0.9"/><path d="M21.3 18.2 L13.6 19.55 L13.6 16.85Z" fill="#111"/><circle cx="4.6" cy="18.2" r="1.4" fill="#ccc" stroke="#222" stroke-width="0.8"/><text x="7.6" y="6.4" font-family="Liberation Serif" font-style="italic" font-size="5.8" fill="#444">x</text><text x="17.8" y="15.6" font-family="Liberation Serif" font-style="italic" font-size="5.6" fill="#444">z</text><text x="3.2" y="25.8" font-family="Liberation Serif" font-style="italic" font-size="6.4" fill="#555">y</text></g></svg>
<div class="cb" style="left:285.20px;top:134.30px;width:116.70px"></div>
<div class="t" style="left:286.90px;top:142.40px;width:30px;margin-left:-15px;text-align:center">0.0</div>
<div class="t" style="left:308.54px;top:142.40px;width:30px;margin-left:-15px;text-align:center">0.2</div>
<div class="t" style="left:331.88px;top:142.40px;width:30px;margin-left:-15px;text-align:center">0.4</div>
<div class="t" style="left:355.22px;top:142.40px;width:30px;margin-left:-15px;text-align:center">0.6</div>
<div class="t" style="left:378.56px;top:142.40px;width:30px;margin-left:-15px;text-align:center">0.8</div>
<div class="t" style="left:401.90px;top:142.40px;width:30px;margin-left:-15px;text-align:center">1.0</div>
<span class="g" style="left:285.80px;top:122.83px;font-size:10.20px;font-style:normal;transform:scaleX(1.12);transform-origin:0 0">&Delta;</span><span class="g" style="left:293.10px;top:122.83px;font-size:10.20px;font-style:italic">x</span><span class="g" style="left:297.30px;top:127.02px;font-size:7.00px;font-style:italic">c</span><span class="g" style="left:300.80px;top:123.00px;font-size:10.71px;font-style:normal">/</span><span class="g" style="left:305.40px;top:122.83px;font-size:10.20px;font-style:italic;transform:scaleX(1.1);transform-origin:0 0">L</span>
<svg class="p" style="left:420.00px;top:4.00px" width="125.00" height="118.60" viewBox="0 0 125.00 118.60"><rect width="100%" height="100%" fill="#0e24f6"/><g filter="url(#p03_halo)" fill="none" stroke-linejoin="round"><use href="#wallA" stroke="#1c44fc" stroke-width="22"/><use href="#wallA" stroke="#2458ff" stroke-width="9"/></g><polygon points="84,0 125,0 125,42 100,58 92,62 88,40" fill="#2a60ff" filter="url(#p03_tr)"/><polygon points="90,64 100,56 125,37 125,48 101,63" fill="#4c98ff" filter="url(#p03_ab)"/><polygon points="92,96 125,96 125,110 100,106" fill="#3a90ff" filter="url(#p03_bo)"/><rect x="70" y="95" width="30" height="8" fill="#2a6cff" filter="url(#p03_bo)"/><polygon points="92.6,65 104.3,58.5 125,46.5 125,100.0 92.6,98.0" fill="#30e0a8"/><defs><linearGradient id="p03_lg" x1="0" y1="0" x2="1" y2="0"><stop offset="0" stop-color="#30e0c0"/><stop offset="0.35" stop-color="#50e840"/><stop offset="0.7" stop-color="#f0d000"/><stop offset="1" stop-color="#ff6000"/></linearGradient></defs><rect x="92.6" y="64" width="11.9" height="32.0" fill="url(#p03_lg)"/><polygon points="104.3,62.0 125,50.5 125,95.0 104.3,95.0" fill="#ff1800"/><rect x="104.3" y="95.0" width="21.2" height="3.2" fill="#40e070"/><rect x="104.3" y="98.2" width="21.2" height="3" fill="#30c8ff" opacity="0.8"/><g clip-path="url(#clipA)"><rect width="125" height="120" fill="#38b4ff"/><defs><linearGradient id="p03_gw" x1="0" y1="0.2" x2="0.9" y2="0"><stop offset="0" stop-color="#40e060"/><stop offset="0.3" stop-color="#38e080"/><stop offset="0.55" stop-color="#20d8e8" stop-opacity="0.7"/><stop offset="1" stop-color="#20d8f0" stop-opacity="0"/></linearGradient></defs><use href="#wallA" fill="none" stroke="#20c8f8" stroke-width="13"/><use href="#wallA" fill="none" stroke="url(#p03_gw)" stroke-width="7.5" filter="url(#p03_gr)"/><polygon points="50,70 97,63 97,96 40,96" fill="#40e050" filter="url(#p03_ch1)"/><polygon points="66,86 80,76 92,66 98,66 98,84 82,86" fill="#d8e800" filter="url(#p03_ch2)"/><polygon points="84,80 92,71 97,69 97,78 90,82" fill="#f0d000" filter="url(#p03_ch4)"/><rect x="40" y="90" width="58" height="5" fill="#20d8f0" filter="url(#p03_ch3)"/><rect x="80" y="64" width="18" height="5" fill="#20d0f0" filter="url(#p03_ch3)"/><circle cx="51.05" cy="52.05" r="29.2" fill="#34acff" filter="url(#p03_rot)"/><circle cx="51.05" cy="52.05" r="26.5" fill="none" stroke="#20c8f8" stroke-width="4" opacity="0.6"/><circle cx="51.05" cy="52.05" r="19.5" fill="#18d8ff"/><circle cx="51.05" cy="52.05" r="13" fill="#2060ff" filter="url(#p03_hb)"/></g><use href="#wallA" fill="none" stroke="#f8f8f8" stroke-width="2.4"/><circle cx="77.60" cy="25.20" r="3.6" fill="#f8f8f8"/><circle cx="77.60" cy="25.20" r="1.7" fill="#1840ff"/><circle cx="19.80" cy="82.80" r="3.6" fill="#f8f8f8"/><circle cx="19.80" cy="82.80" r="1.7" fill="#1840ff"/><circle cx="80.00" cy="95.60" r="3.6" fill="#f8f8f8"/><circle cx="80.00" cy="95.60" r="1.7" fill="#1840ff"/><rect x="88.10" y="62.80" width="3" height="2.6" fill="none" stroke="#f8f8f8" stroke-width="0.8"/><path d="M79.22 50.82 Q66.44 50.15 79.22 53.28 M78.97 56.02 Q66.52 53.01 78.52 58.44 M77.77 61.08 Q66.08 55.83 76.88 63.37 M75.65 65.84 Q65.13 58.53 74.36 67.93 M72.70 70.12 Q63.70 61.01 71.04 71.94 M69.01 73.79 Q61.84 63.18 67.05 75.27 M64.71 76.72 Q59.61 64.97 62.51 77.82 M59.94 78.81 Q57.09 66.33 57.58 79.48 M54.87 79.99 Q54.36 67.19 52.42 80.22 M49.68 80.22 Q51.52 67.55 47.23 79.99 M44.52 79.48 Q48.67 67.37 42.16 78.81 M39.59 77.82 Q45.89 66.67 37.39 76.72 M35.05 75.27 Q43.30 65.47 33.09 73.79 M31.06 71.94 Q40.96 63.82 29.40 70.12 M27.74 67.93 Q38.97 61.77 26.45 65.84 M25.22 63.37 Q37.39 59.38 24.33 61.08 M23.58 58.44 Q36.28 56.75 23.13 56.02 M22.88 53.28 Q35.66 53.95 22.88 50.82 M23.13 48.08 Q35.58 51.09 23.58 45.66 M24.33 43.02 Q36.02 48.27 25.22 40.73 M26.45 38.26 Q36.97 45.57 27.74 36.17 M29.40 33.98 Q38.40 43.09 31.06 32.16 M33.09 30.31 Q40.26 40.92 35.05 28.83 M37.39 27.38 Q42.49 39.13 39.59 26.28 M42.16 25.29 Q45.01 37.77 44.52 24.62 M47.23 24.11 Q47.74 36.91 49.68 23.88 M52.42 23.88 Q50.58 36.55 54.87 24.11 M57.58 24.62 Q53.43 36.73 59.94 25.29 M62.51 26.28 Q56.21 37.43 64.71 27.38 M67.05 28.83 Q58.80 38.63 69.01 30.31 M71.04 32.16 Q61.14 40.28 72.70 33.98 M74.36 36.17 Q63.13 42.33 75.65 38.26 M76.88 40.73 Q64.71 44.72 77.77 43.02 M78.52 45.66 Q65.82 47.35 78.97 48.08" fill="none" stroke="#dcf0ff" stroke-width="0.85" stroke-linecap="round"/><circle cx="51.05" cy="52.05" r="8.7" fill="#f6f6f2"/><circle cx="56.50" cy="50.38" r="1.95" fill="#1840ff"/><circle cx="52.33" cy="46.50" r="1.95" fill="#1840ff"/><circle cx="46.88" cy="48.16" r="1.95" fill="#1840ff"/><circle cx="45.60" cy="53.72" r="1.95" fill="#1840ff"/><circle cx="49.77" cy="57.60" r="1.95" fill="#1840ff"/><circle cx="55.22" cy="55.94" r="1.95" fill="#1840ff"/><circle cx="51.05" cy="52.05" r="1.9" fill="#1840ff"/></svg>
<div class="cb" style="left:424.60px;top:134.30px;width:116.70px"></div>
<div class="t" style="left:424.60px;top:142.40px;width:30px;margin-left:-15px;text-align:center">0</div>
<div class="t" style="left:447.94px;top:142.40px;width:30px;margin-left:-15px;text-align:center">6</div>
<div class="t" style="left:471.28px;top:142.40px;width:30px;margin-left:-15px;text-align:center">12</div>
<div class="t" style="left:494.62px;top:142.40px;width:30px;margin-left:-15px;text-align:center">18</div>
<div class="t" style="left:517.96px;top:142.40px;width:30px;margin-left:-15px;text-align:center">24</div>
<div class="t" style="left:541.30px;top:142.40px;width:30px;margin-left:-15px;text-align:center">30</div>
<span class="g" style="left:425.20px;top:122.83px;font-size:10.20px;font-style:normal;transform:scaleX(1.12);transform-origin:0 0">&Delta;</span><span class="g" style="left:432.50px;top:122.83px;font-size:10.20px;font-style:italic">x</span><span class="g" style="left:436.70px;top:127.02px;font-size:7.00px;font-style:italic">c</span><span class="g" style="left:440.20px;top:123.00px;font-size:10.71px;font-style:normal">/</span><span class="g" style="left:445.10px;top:122.83px;font-size:10.20px;font-style:italic">&eta;</span><span class="g" style="left:450.50px;top:127.02px;font-size:7.00px;font-style:italic">K</span>
<div class="lab" style="left:136.00px;top:158.20px;width:30px;margin-left:-15px;text-align:center"><b>(a)</b></div>
<div class="lab" style="left:411.00px;top:158.20px;width:30px;margin-left:-15px;text-align:center"><b>(b)</b></div>
<svg class="p" style="left:5.00px;top:186.80px" width="125.00" height="118.00" viewBox="0 0 125.00 118.00"><rect width="100%" height="100%" fill="#0c1cf2"/><g filter="url(#p10_h1)" fill="#2050ff" stroke="#2050ff" stroke-width="22" stroke-linejoin="round" opacity="0.75"><use href="#blades"/></g><g filter="url(#p10_r0)" opacity="0.70" stroke="#1a8cff" stroke-linejoin="round" stroke-linecap="round" ><use href="#blades" fill="none" stroke-width="7.50"/></g><g filter="url(#p10_r1)" opacity="1.00" stroke="#00d0ff" stroke-linejoin="round" stroke-linecap="round" ><use href="#blades" fill="none" stroke-width="4.80"/></g><g filter="url(#p10_r2)" opacity="1.00" stroke="#30f050" stroke-linejoin="round" stroke-linecap="round" ><use href="#blades" fill="none" stroke-width="3.10"/></g><use href="#blades" fill="#f8f8f8" stroke="#e81800" stroke-width="1.0"/><g transform="translate(2.00 0.80)"><rect x="0.6" y="0.6" width="22.6" height="27.4" fill="#f6f6f6" stroke="#151515" stroke-width="1.2"/><line x1="4.6" y1="18.2" x2="4.6" y2="9" stroke="#333" stroke-width="0.8"/><path d="M4.6 2.6 L5.95 10.3 L3.25 10.3Z" fill="#111"/><line x1="4.6" y1="18.2" x2="15" y2="18.2" stroke="#666" stroke-width="0.9"/><path d="M21.3 18.2 L13.6 19.55 L13.6 16.85Z" fill="#111"/><circle cx="4.6" cy="18.2" r="1.4" fill="#ccc" stroke="#222" stroke-width="0.8"/><text x="7.6" y="6.4" font-family="Liberation Serif" font-style="italic" font-size="5.8" fill="#444">x</text><text x="17.8" y="15.6" font-family="Liberation Serif" font-style="italic" font-size="5.6" fill="#444">z</text><text x="3.2" y="25.8" font-family="Liberation Serif" font-style="italic" font-size="6.4" fill="#555">y</text></g></svg>
<div class="cb" style="left:9.60px;top:317.10px;width:116.70px"></div>
<div class="t" style="left:11.30px;top:325.20px;width:30px;margin-left:-15px;text-align:center">0.0</div>
<div class="t" style="left:32.94px;top:325.20px;width:30px;margin-left:-15px;text-align:center">0.2</div>
<div class="t" style="left:56.28px;top:325.20px;width:30px;margin-left:-15px;text-align:center">0.4</div>
<div class="t" style="left:79.62px;top:325.20px;width:30px;margin-left:-15px;text-align:center">0.6</div>
<div class="t" style="left:102.96px;top:325.20px;width:30px;margin-left:-15px;text-align:center">0.8</div>
<div class="t" style="left:126.30px;top:325.20px;width:30px;margin-left:-15px;text-align:center">1.0</div>
<span class="g" style="left:10.20px;top:305.63px;font-size:10.20px;font-style:normal;transform:scaleX(1.12);transform-origin:0 0">&Delta;</span><span class="g" style="left:17.50px;top:305.63px;font-size:10.20px;font-style:italic">x</span><span class="g" style="left:21.70px;top:309.82px;font-size:7.00px;font-style:italic">c</span><span class="g" style="left:25.20px;top:305.80px;font-size:10.71px;font-style:normal">/</span><span class="g" style="left:29.80px;top:305.63px;font-size:10.20px;font-style:italic;transform:scaleX(1.1);transform-origin:0 0">L</span>
<svg class="p" style="left:144.50px;top:186.80px" width="125.00" height="118.00" viewBox="0 0 125.00 118.00"><rect width="100%" height="100%" fill="#0e24f6"/><rect width="125" height="118" fill="#44b0ff"/><rect x="0" y="16" width="125" height="102" fill="#14dcf4" filter="url(#p11_cy)"/><g filter="url(#p11_g1)" fill="#38e050" stroke="#38e050" stroke-width="20.0" stroke-linejoin="round" opacity="0.85" ><use href="#blades"/></g><g filter="url(#p11_g2)" fill="#38e050" stroke="#38e050" stroke-width="9.0" stroke-linejoin="round" opacity="1.00" ><use href="#blades"/></g><defs><linearGradient id="p11_lo" x1="0" y1="0" x2="0" y2="1"><stop offset="0" stop-color="#38e050" stop-opacity="0"/><stop offset="0.3" stop-color="#38e050"/><stop offset="1" stop-color="#50e040"/></linearGradient></defs><rect x="0" y="55" width="125" height="63" fill="url(#p11_lo)"/><g filter="url(#p11_sh)" fill="#18e0d0" stroke="#18e0d0" stroke-width="7.0" stroke-linejoin="round" opacity="0.85" transform="translate(4.5 3)"><use href="#blades"/></g><ellipse cx="14" cy="104" rx="8" ry="4.5" fill="#20e0c0" filter="url(#p11_e14)"/><ellipse cx="46" cy="104" rx="8" ry="4.5" fill="#20e0c0" filter="url(#p11_e46)"/><ellipse cx="78" cy="104" rx="8" ry="4.5" fill="#20e0c0" filter="url(#p11_e78)"/><ellipse cx="112" cy="104" rx="8" ry="4.5" fill="#20e0c0" filter="url(#p11_e112)"/><rect x="0" y="108" width="125" height="10" fill="#78e038" opacity="0.7" filter="url(#p11_yb)"/><rect x="0" y="0" width="2.5" height="118" fill="#20d0f8"/><rect x="0" y="0" width="125" height="4.5" fill="#44b8ff"/><path d="M19.5 0 H109.5 V3.5 H66 V5.8 H19.5Z" fill="#38e060"/><use href="#blades" fill="#fbfbfb" stroke="#30e0c8" stroke-width="2.4" stroke-linejoin="round"/><path d="M8.10 99.00 C8.02 97.83 7.55 95.47 7.60 92.00 C7.65 88.53 8.03 82.00 8.40 78.20 C8.77 74.40 9.22 71.70 9.80 69.20 C10.38 66.70 11.05 65.27 11.90 63.20 C12.75 61.13 13.58 59.35 14.90 56.80 C16.22 54.25 18.17 50.45 19.80 47.90 C21.43 45.35 23.88 42.57 24.70 41.50 M42.20 101.60 C41.93 100.70 41.13 98.43 40.60 96.20 C40.07 93.97 39.35 90.87 39.00 88.20 C38.65 85.53 38.50 82.87 38.50 80.20 C38.50 77.53 38.65 74.87 39.00 72.20 C39.35 69.53 40.33 65.53 40.60 64.20 M75.40 100.40 C75.02 99.05 73.87 95.57 73.10 92.30 C72.33 89.03 71.18 84.63 70.80 80.80 C70.42 76.97 70.53 72.77 70.80 69.30 C71.07 65.83 71.63 63.08 72.40 60.00 C73.17 56.92 74.13 53.87 75.40 50.80 C76.67 47.73 79.23 43.13 80.00 41.60 M109.90 96.90 C109.32 95.78 107.57 92.77 106.40 90.20 C105.23 87.63 103.87 84.42 102.90 81.50 C101.93 78.58 101.10 75.62 100.60 72.70 C100.10 69.78 99.82 66.62 99.90 64.00 C99.98 61.38 100.90 58.17 101.10 57.00" fill="none" stroke="#2a98ff" stroke-width="1.1" stroke-linecap="round"/><circle cx="41.50" cy="32.80" r="1.3" fill="#f0c000" opacity="0.9"/><circle cx="51.00" cy="53.40" r="1.3" fill="#f0c000" opacity="0.9"/><circle cx="94.80" cy="29.40" r="1.3" fill="#f0c000" opacity="0.9"/><circle cx="107.90" cy="47.40" r="1.3" fill="#f0c000" opacity="0.9"/></svg>
<div class="cb" style="left:149.10px;top:317.10px;width:116.70px"></div>
<div class="t" style="left:149.10px;top:325.20px;width:30px;margin-left:-15px;text-align:center">0</div>
<div class="t" style="left:172.44px;top:325.20px;width:30px;margin-left:-15px;text-align:center">3</div>
<div class="t" style="left:195.78px;top:325.20px;width:30px;margin-left:-15px;text-align:center">6</div>
<div class="t" style="left:219.12px;top:325.20px;width:30px;margin-left:-15px;text-align:center">9</div>
<div class="t" style="left:242.46px;top:325.20px;width:30px;margin-left:-15px;text-align:center">12</div>
<div class="t" style="left:265.80px;top:325.20px;width:30px;margin-left:-15px;text-align:center">15</div>
<span class="g" style="left:149.70px;top:305.63px;font-size:10.20px;font-style:normal;transform:scaleX(1.12);transform-origin:0 0">&Delta;</span><span class="g" style="left:157.00px;top:305.63px;font-size:10.20px;font-style:italic">x</span><span class="g" style="left:161.20px;top:309.82px;font-size:7.00px;font-style:italic">c</span><span class="g" style="left:164.70px;top:305.80px;font-size:10.71px;font-style:normal">/</span><span class="g" style="left:169.60px;top:305.63px;font-size:10.20px;font-style:italic">&eta;</span><span class="g" style="left:175.00px;top:309.82px;font-size:7.00px;font-style:italic">K</span>
<svg class="p" style="left:280.60px;top:186.80px" width="125.00" height="118.00" viewBox="0 0 125.00 118.00"><rect width="100%" height="100%" fill="#0a16f0"/><g filter="url(#p12_h1)" fill="#1c54ff" stroke="#1c54ff" stroke-width="24" stroke-linejoin="round"><use href="#blades"/></g><g filter="url(#p12_h2)" fill="#2a6cff" stroke="#2a6cff" stroke-width="13" stroke-linejoin="round"><use href="#blades"/></g><g filter="url(#p12_r0)" opacity="0.70" stroke="#1a8cff" stroke-linejoin="round" stroke-linecap="round" ><use href="#blades" fill="none" stroke-width="7.50"/></g><g filter="url(#p12_r1)" opacity="1.00" stroke="#00d0ff" stroke-linejoin="round" stroke-linecap="round" ><use href="#blades" fill="none" stroke-width="4.80"/></g><g filter="url(#p12_r2)" opacity="1.00" stroke="#30f050" stroke-linejoin="round" stroke-linecap="round" ><use href="#blades" fill="none" stroke-width="3.10"/></g><use href="#blades" fill="#f8f8f8" stroke="#e81800" stroke-width="1.0"/><g transform="translate(2.00 0.80)"><rect x="0.6" y="0.6" width="22.6" height="27.4" fill="#f6f6f6" stroke="#151515" stroke-width="1.2"/><line x1="4.6" y1="18.2" x2="4.6" y2="9" stroke="#333" stroke-width="0.8"/><path d="M4.6 2.6 L5.95 10.3 L3.25 10.3Z" fill="#111"/><line x1="4.6" y1="18.2" x2="15" y2="18.2" stroke="#666" stroke-width="0.9"/><path d="M21.3 18.2 L13.6 19.55 L13.6 16.85Z" fill="#111"/><circle cx="4.6" cy="18.2" r="1.4" fill="#ccc" stroke="#222" stroke-width="0.8"/><text x="7.6" y="6.4" font-family="Liberation Serif" font-style="italic" font-size="5.8" fill="#444">x</text><text x="17.8" y="15.6" font-family="Liberation Serif" font-style="italic" font-size="5.6" fill="#444">z</text><text x="3.2" y="25.8" font-family="Liberation Serif" font-style="italic" font-size="6.4" fill="#555">y</text></g></svg>
<div class="cb" style="left:285.20px;top:317.10px;width:116.70px"></div>
<div class="t" style="left:286.90px;top:325.20px;width:30px;margin-left:-15px;text-align:center">0.0</div>
<div class="t" style="left:308.54px;top:325.20px;width:30px;margin-left:-15px;text-align:center">0.2</div>
<div class="t" style="left:331.88px;top:325.20px;width:30px;margin-left:-15px;text-align:center">0.4</div>
<div class="t" style="left:355.22px;top:325.20px;width:30px;margin-left:-15px;text-align:center">0.6</div>
<div class="t" style="left:378.56px;top:325.20px;width:30px;margin-left:-15px;text-align:center">0.8</div>
<div class="t" style="left:401.90px;top:325.20px;width:30px;margin-left:-15px;text-align:center">1.0</div>
<span class="g" style="left:285.80px;top:305.63px;font-size:10.20px;font-style:normal;transform:scaleX(1.12);transform-origin:0 0">&Delta;</span><span class="g" style="left:293.10px;top:305.63px;font-size:10.20px;font-style:italic">x</span><span class="g" style="left:297.30px;top:309.82px;font-size:7.00px;font-style:italic">c</span><span class="g" style="left:300.80px;top:305.80px;font-size:10.71px;font-style:normal">/</span><span class="g" style="left:305.40px;top:305.63px;font-size:10.20px;font-style:italic;transform:scaleX(1.1);transform-origin:0 0">L</span>
<svg class="p" style="left:420.00px;top:186.80px" width="125.00" height="118.00" viewBox="0 0 125.00 118.00"><rect width="100%" height="100%" fill="#0e24f6"/><rect width="125" height="118" fill="#2c7cff"/><g filter="url(#p13_lb)" fill="#38a8ff" stroke="#38a8ff" stroke-width="34.0" stroke-linejoin="round" opacity="1.00" ><use href="#blades"/></g><g filter="url(#p13_cy)" fill="#14d8f0" stroke="#14d8f0" stroke-width="21.0" stroke-linejoin="round" opacity="1.00" ><use href="#blades"/></g><g filter="url(#p13_g1)" fill="#38e060" stroke="#38e060" stroke-width="7.5" stroke-linejoin="round" opacity="1.00" ><use href="#blades"/></g><defs><linearGradient id="p13_lo" x1="0" y1="0" x2="0" y2="1"><stop offset="0" stop-color="#38e050" stop-opacity="0"/><stop offset="0.3" stop-color="#38e050"/><stop offset="1" stop-color="#50e040"/></linearGradient></defs><rect x="0" y="55" width="125" height="63" fill="url(#p13_lo)"/><g filter="url(#p13_sh)" fill="#18e0d0" stroke="#18e0d0" stroke-width="7.0" stroke-linejoin="round" opacity="0.85" transform="translate(4.5 3)"><use href="#blades"/></g><ellipse cx="14" cy="104" rx="8" ry="4.5" fill="#20e0c0" filter="url(#p13_e14)"/><ellipse cx="46" cy="104" rx="8" ry="4.5" fill="#20e0c0" filter="url(#p13_e46)"/><ellipse cx="78" cy="104" rx="8" ry="4.5" fill="#20e0c0" filter="url(#p13_e78)"/><ellipse cx="112" cy="104" rx="8" ry="4.5" fill="#20e0c0" filter="url(#p13_e112)"/><rect x="0" y="0" width="2" height="118" fill="#20d0f8"/><path d="M0 0 H125 V20 H119 V13 L13 13 V26 H0Z" fill="#2c7cff" filter="url(#p13_tb)"/><path d="M11.5 0 H118 V9.5 L116.5 10.5 H75 L72.5 12.5 L71 10.5 H13 L11.5 9Z" fill="#48e894"/><rect x="106.5" y="113.4" width="18.5" height="3.4" fill="#ff7000"/><rect x="106.5" y="114.2" width="18.5" height="1.8" fill="#ff3000"/><use href="#blades" fill="#fbfbfb" stroke="#28dcd8" stroke-width="2.4" stroke-linejoin="round"/><path d="M8.10 99.00 C8.02 97.83 7.55 95.47 7.60 92.00 C7.65 88.53 8.03 82.00 8.40 78.20 C8.77 74.40 9.22 71.70 9.80 69.20 C10.38 66.70 11.05 65.27 11.90 63.20 C12.75 61.13 13.58 59.35 14.90 56.80 C16.22 54.25 18.17 50.45 19.80 47.90 C21.43 45.35 23.88 42.57 24.70 41.50 M42.20 101.60 C41.93 100.70 41.13 98.43 40.60 96.20 C40.07 93.97 39.35 90.87 39.00 88.20 C38.65 85.53 38.50 82.87 38.50 80.20 C38.50 77.53 38.65 74.87 39.00 72.20 C39.35 69.53 40.33 65.53 40.60 64.20 M75.40 100.40 C75.02 99.05 73.87 95.57 73.10 92.30 C72.33 89.03 71.18 84.63 70.80 80.80 C70.42 76.97 70.53 72.77 70.80 69.30 C71.07 65.83 71.63 63.08 72.40 60.00 C73.17 56.92 74.13 53.87 75.40 50.80 C76.67 47.73 79.23 43.13 80.00 41.60 M109.90 96.90 C109.32 95.78 107.57 92.77 106.40 90.20 C105.23 87.63 103.87 84.42 102.90 81.50 C101.93 78.58 101.10 75.62 100.60 72.70 C100.10 69.78 99.82 66.62 99.90 64.00 C99.98 61.38 100.90 58.17 101.10 57.00" fill="none" stroke="#2080ff" stroke-width="1.1" stroke-linecap="round"/><circle cx="41.50" cy="32.80" r="1.3" fill="#f0c000" opacity="0.9"/><circle cx="51.00" cy="53.40" r="1.3" fill="#f0c000" opacity="0.9"/><circle cx="94.80" cy="29.40" r="1.3" fill="#f0c000" opacity="0.9"/><circle cx="107.90" cy="47.40" r="1.3" fill="#f0c000" opacity="0.9"/></svg>
<div class="cb" style="left:424.60px;top:317.10px;width:116.70px"></div>
<div class="t" style="left:424.60px;top:325.20px;width:30px;margin-left:-15px;text-align:center">0</div>
<div class="t" style="left:447.94px;top:325.20px;width:30px;margin-left:-15px;text-align:center">3</div>
<div class="t" style="left:471.28px;top:325.20px;width:30px;margin-left:-15px;text-align:center">6</div>
<div class="t" style="left:494.62px;top:325.20px;width:30px;margin-left:-15px;text-align:center">9</div>
<div class="t" style="left:517.96px;top:325.20px;width:30px;margin-left:-15px;text-align:center">12</div>
<div class="t" style="left:541.30px;top:325.20px;width:30px;margin-left:-15px;text-align:center">15</div>
<span class="g" style="left:425.20px;top:305.63px;font-size:10.20px;font-style:normal;transform:scaleX(1.12);transform-origin:0 0">&Delta;</span><span class="g" style="left:432.50px;top:305.63px;font-size:10.20px;font-style:italic">x</span><span class="g" style="left:436.70px;top:309.82px;font-size:7.00px;font-style:italic">c</span><span class="g" style="left:440.20px;top:305.80px;font-size:10.71px;font-style:normal">/</span><span class="g" style="left:445.10px;top:305.63px;font-size:10.20px;font-style:italic">&eta;</span><span class="g" style="left:450.50px;top:309.82px;font-size:7.00px;font-style:italic">K</span>
<div class="lab" style="left:136.00px;top:341.00px;width:30px;margin-left:-15px;text-align:center"><b>(c)</b></div>
<div class="lab" style="left:411.00px;top:341.00px;width:30px;margin-left:-15px;text-align:center"><b>(d)</b></div></body></html>
